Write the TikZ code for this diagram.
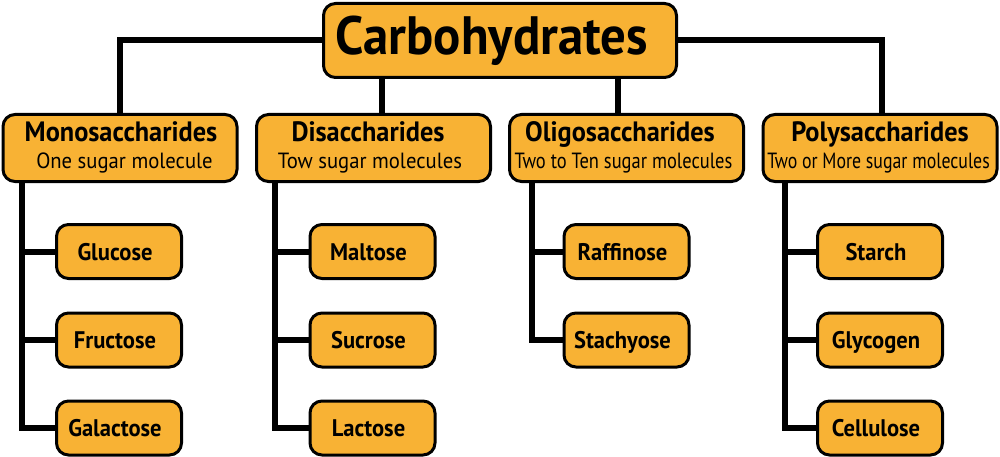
\documentclass[tikz,border=0pt]{standalone}
\usepackage{fontspec}
\setmainfont{PT Sans}
\newfontfamily\cnd[FakeStretch=0.94]{PT Sans}
\newfontfamily\cndo[FakeStretch=0.84]{PT Sans}
\newfontfamily\cndp[FakeStretch=0.81]{PT Sans}
\usetikzlibrary{backgrounds}
\definecolor{boxfill}{RGB}{248,178,52}
\tikzset{
  box/.style={draw=black, line width=3pt, fill=boxfill, rounded corners=12pt, inner sep=0pt},
  catbox/.style={box, minimum width=234pt, minimum height=67pt},
  leafbox/.style={box, minimum width=125pt, minimum height=54pt},
  link/.style={draw=black, line width=6pt, line join=miter},
  maintxt/.style={anchor=base, inner sep=0pt, font=\cnd\bfseries\fontsize{54}{60}\selectfont},
  cattxt/.style={anchor=base, inner sep=0pt, font=\cnd\bfseries\fontsize{28}{32}\selectfont},
  subtxt/.style={anchor=base, inner sep=0pt, font=\cnd\fontsize{22}{26}\selectfont},
  subtxto/.style={anchor=base, inner sep=0pt, font=\cndo\fontsize{22}{26}\selectfont},
  subtxtp/.style={anchor=base, inner sep=0pt, font=\cndp\fontsize{22}{26}\selectfont},
  leaftxt/.style={anchor=base, inner sep=0pt, font=\cnd\bfseries\fontsize{24}{28}\selectfont}
}
\begin{document}
\begin{tikzpicture}[x=1pt, y=-1pt]
\useasboundingbox (0,0) rectangle (1000,457);
% top
\node[box, minimum width=353pt, minimum height=74pt] (carb) at (500,40.5) {};
\node[maintxt] (carbt) at (492,55) {Carbohydrates};
% categories
\node[catbox] (mono) at (120,148) {};
\node[catbox] (di) at (373.5,148) {};
\node[catbox] (oligo) at (626.5,148) {};
\node[catbox] (poly) at (880,148) {};
\node[cattxt] (monot) at (121,142) {Monosaccharides};
\node[subtxt] (monos) at (124.5,168) {One sugar molecule};
\node[cattxt] (dit) at (368,142) {Disaccharides};
\node[subtxt] (dis) at (370,168) {Tow sugar molecules};
\node[cattxt] (oligot) at (620,142) {Oligosaccharides};
\node[subtxto] (oligos) at (623.5,168) {Two to Ten sugar molecules};
\node[cattxt] (polyt) at (880,142) {Polysaccharides};
\node[subtxtp] (polys) at (878.5,168) {Two or More sugar molecules};
% leaves
\node[leafbox] (glu) at (119,251.5) {};
\node[leafbox] (fru) at (119,340) {};
\node[leafbox] (gal) at (119,428) {};
\node[leafbox] (mal) at (372.5,251.5) {};
\node[leafbox] (suc) at (372.5,340) {};
\node[leafbox] (lac) at (372.5,428) {};
\node[leafbox] (raf) at (626.5,251.5) {};
\node[leafbox] (sta) at (626.5,340) {};
\node[leafbox] (str) at (880,251.5) {};
\node[leafbox] (gly) at (880,340) {};
\node[leafbox] (cel) at (880,428) {};
\node[leaftxt] (glut) at (115,260) {Glucose};
\node[leaftxt] (frut) at (115,348.5) {Fructose};
\node[leaftxt] (galt) at (115,436.5) {Galactose};
\node[leaftxt] (malt) at (368.5,260) {Maltose};
\node[leaftxt] (suct) at (368.5,348.5) {Sucrose};
\node[leaftxt] (lact) at (368.5,436.5) {Lactose};
\node[leaftxt] (raft) at (622.5,260) {Raffinose};
\node[leaftxt] (stat) at (622.5,348.5) {Stachyose};
\node[leaftxt] (strt) at (876,260) {Starch};
\node[leaftxt] (glyt) at (876,348.5) {Glycogen};
\node[leaftxt] (celt) at (876,436.5) {Cellulose};
% connectors
\begin{scope}[on background layer]
\draw[link] (carb.west) -| (mono.north);
\draw[link] (carb.east) -| ([xshift=2pt]poly.north);
\draw[link] ([xshift=-118pt]carb.south) -- ([xshift=-118pt]carb.south |- di.north);
\draw[link] ([xshift=118pt]carb.south) -- ([xshift=118pt]carb.south |- oligo.north);
% mono
\draw[link] ([xshift=-98pt]mono.south) |- (gal.west);
\draw[link] ([xshift=-98pt]mono.south |- glu.west) -- (glu.west);
\draw[link] ([xshift=-98pt]mono.south |- fru.west) -- (fru.west);
% di
\draw[link] ([xshift=-98.5pt]di.south) |- (lac.west);
\draw[link] ([xshift=-98.5pt]di.south |- mal.west) -- (mal.west);
\draw[link] ([xshift=-98.5pt]di.south |- suc.west) -- (suc.west);
% oligo
\draw[link] ([xshift=-94.5pt]oligo.south) |- (sta.west);
\draw[link] ([xshift=-94.5pt]oligo.south |- raf.west) -- (raf.west);
% poly
\draw[link] ([xshift=-95pt]poly.south) |- (cel.west);
\draw[link] ([xshift=-95pt]poly.south |- str.west) -- (str.west);
\draw[link] ([xshift=-95pt]poly.south |- gly.west) -- (gly.west);
\end{scope}
\end{tikzpicture}
\end{document}
